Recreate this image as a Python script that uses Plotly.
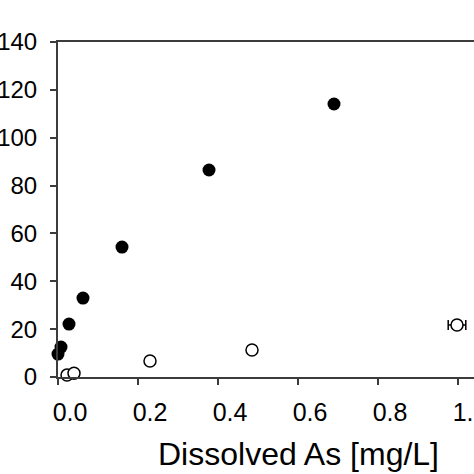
import plotly.graph_objects as go

# filled circles
filled_x = [0.0, 0.0075, 0.0275, 0.0625, 0.16, 0.3775, 0.69]
filled_y = [9.6, 12.5, 22.1, 33.0, 54.3, 86.5, 114.1]

# open circles
open_x = [0.0225, 0.04, 0.23, 0.485, 0.9975]
open_y = [0.8, 1.6, 6.7, 11.3, 21.7]
open_xerr = [0, 0, 0, 0, 0.022]

x_ticks = [0.0, 0.2, 0.4, 0.6, 0.8, 1.0]
x_labels = ["0.0", "0.2", "0.4", "0.6", "0.8", "1.0"]
y_ticks = [0, 20, 40, 60, 80, 100, 120, 140]

font = "Liberation Sans, Arial, sans-serif"

fig = go.Figure()

fig.add_trace(go.Scatter(
    x=open_x, y=open_y, mode="markers", cliponaxis=False,
    marker=dict(size=12, color="white", line=dict(color="black", width=1.5)),
    error_x=dict(type="data", array=open_xerr, visible=True,
                 color="black", thickness=1.5, width=5),
))

fig.add_trace(go.Scatter(
    x=filled_x, y=filled_y, mode="markers", cliponaxis=False,
    marker=dict(size=13, color="black", line=dict(width=0)),
))

fig.add_annotation(
    text="Dissolved As [mg/L]", xref="x", yref="paper",
    x=0.6, y=-0.17, yanchor="top", showarrow=False,
    font=dict(family=font, size=32, color="black"),
)

fig.update_xaxes(
    range=[0, 1.04], tickvals=x_ticks, ticktext=x_labels,
    showline=True, linecolor="#3c3c3c", linewidth=2, mirror=True,
    ticks="outside", ticklen=6, tickwidth=1.5, tickcolor="#3c3c3c",
    ticklabelshift=12, ticklabelstandoff=6, automargin=False,
    ticklabeloverflow="allow",
    showgrid=False, zeroline=False,
    tickfont=dict(family=font, size=25, color="black"),
)
fig.update_yaxes(
    range=[0, 140], tickvals=y_ticks,
    showline=True, linecolor="#3c3c3c", linewidth=2,
    ticks="outside", ticklen=6, tickwidth=1.5, tickcolor="#3c3c3c",
    ticklabelstandoff=8, automargin=False,
    showgrid=False, zeroline=False,
    tickfont=dict(family=font, size=24, color="black"),
)

fig.update_layout(
    width=474, height=474,
    margin=dict(l=58, r=0, t=42, b=97),
    paper_bgcolor="white", plot_bgcolor="white",
    showlegend=False,
)

# page has a default 8px body margin; drop it so the figure sits at the corner
fig.write_html("out.html", config={"displayModeBar": False},
               post_script="document.body.style.margin='0';")
